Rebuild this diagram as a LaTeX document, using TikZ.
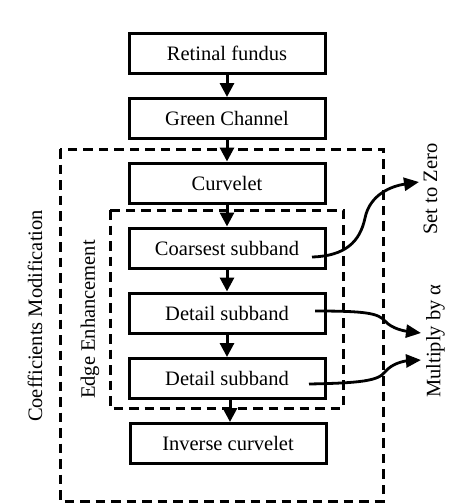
\documentclass[tikz,border=0pt]{standalone}
\usepackage{fontspec}
\setmainfont{Liberation Serif}
\usetikzlibrary{arrows.meta}
\begin{document}
\begin{tikzpicture}[x=1pt,y=-1pt,
  stepbox/.style={draw, line width=3pt, minimum width=196pt, minimum height=40pt, inner sep=0pt, font=\fontsize{20.5}{24}\selectfont},
  flowarrow/.style={line width=3pt, -{Triangle[length=14pt,width=14pt]}},
  curvearrow/.style={line width=2.8pt, -{Triangle[length=15pt,width=13pt]}},
  groupbox/.style={draw, line width=3pt, dash pattern=on 9.5pt off 6pt},
  sidelabel/.style={font=\fontsize{20.5}{24}\selectfont, rotate=90}]
\useasboundingbox (0,0) rectangle (474,504);
\draw[groupbox] (60,149) rectangle (383,501);
\draw[groupbox] (110,210) rectangle (343,408);
\node[stepbox] (ret) at (227,53.5) {Retinal fundus};
\node[stepbox] (green) at (227,118.5) {Green Channel};
\node[stepbox] (curv) at (227,183) {Curvelet};
\node[stepbox] (coarse) at (227,248) {Coarsest subband};
\node[stepbox] (det1) at (227,313) {Detail subband};
\node[stepbox] (det2) at (227,378.5) {Detail subband};
\node[stepbox] (inv) at (228,443.5) {Inverse curvelet};
\draw[flowarrow] (ret) -- (green);
\draw[flowarrow] (green) -- (curv);
\draw[flowarrow] (curv) -- (coarse);
\draw[flowarrow] (coarse) -- (det1);
\draw[flowarrow] (det1) -- (det2);
\draw[flowarrow] (det2.south -| 230,0) -- (inv.north -| 230,0);
\node[sidelabel] (coef) at (35,316) {Coefficients Modification};
\node[sidelabel] (edge) at (90,319.5) {Edge Enhancement};
\node[sidelabel] (zero) at (430.5,189) {Set to Zero};
\node[sidelabel] (mult) at (435.5,341) {Multiply by α};
\coordinate (s1) at (312,257);
\coordinate (t1) at (419,182);
\coordinate (s2) at (315,311);
\coordinate (t2) at (421,333);
\coordinate (s3) at (309,384);
\coordinate (t3) at (421,360);
\draw[curvearrow] (s1) .. controls (345,256) and (360,242) .. (365,218) .. controls (370,194) and (392,186) .. (t1);
\draw[curvearrow] (s2) .. controls (365,311) and (378,313) .. (385,321) .. controls (392,329) and (405,331) .. (t2);
\draw[curvearrow] (s3) .. controls (360,383) and (378,381) .. (385,372) .. controls (392,363) and (405,361) .. (t3);
\end{tikzpicture}
\end{document}
